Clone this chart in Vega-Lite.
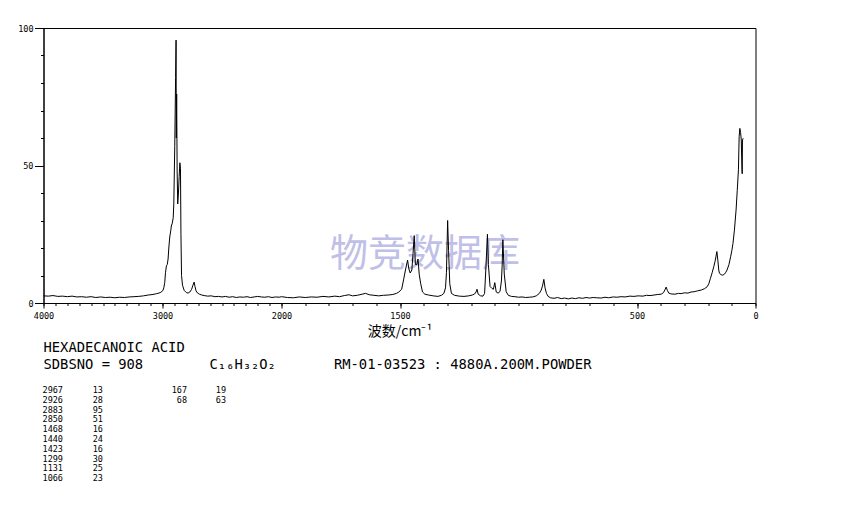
{
  "$schema": "https://vega.github.io/schema/vega-lite/v6.json",
  "background": "white",
  "padding": {"left": 16.5, "top": 23, "right": 0, "bottom": 0},
  "bounds": "flush",
  "spacing": 0,
  "datasets": {
    "spectrum": [
      {"wn":4000,"i":2.6},{"wn":3960,"i":2.5},{"wn":3920,"i":2.7},{"wn":3880,"i":2.4},{"wn":3840,"i":2.5},{"wn":3800,"i":2.3},{"wn":3760,"i":2.5},{"wn":3720,"i":2.2},{"wn":3680,"i":2.3},{"wn":3640,"i":2.1},{"wn":3600,"i":2.3},{"wn":3560,"i":2.0},{"wn":3520,"i":2.2},{"wn":3480,"i":2.0},{"wn":3440,"i":2.1},{"wn":3400,"i":1.9},{"wn":3360,"i":2.1},{"wn":3320,"i":2.0},{"wn":3280,"i":2.2},{"wn":3240,"i":2.3},{"wn":3200,"i":2.4},{"wn":3160,"i":2.6},{"wn":3120,"i":2.9},{"wn":3080,"i":3.1},{"wn":3050,"i":3.4},{"wn":3030,"i":3.6},{"wn":3014,"i":3.9},{"wn":2997,"i":4.5},{"wn":2989,"i":5.5},{"wn":2981,"i":7.5},{"wn":2975,"i":11.0},{"wn":2967,"i":13.5},{"wn":2960,"i":14.0},{"wn":2953,"i":16.0},{"wn":2947,"i":20.0},{"wn":2939,"i":24.0},{"wn":2930,"i":26.5},{"wn":2926,"i":28.0},{"wn":2918,"i":29.0},{"wn":2910,"i":31.0},{"wn":2905,"i":36.0},{"wn":2897,"i":57.0},{"wn":2890,"i":82.0},{"wn":2886,"i":95.6},{"wn":2884,"i":60.0},{"wn":2881,"i":76.0},{"wn":2877,"i":48.0},{"wn":2872,"i":36.0},{"wn":2866,"i":40.0},{"wn":2860,"i":46.0},{"wn":2854,"i":51.0},{"wn":2849,"i":49.0},{"wn":2845,"i":25.0},{"wn":2840,"i":10.0},{"wn":2832,"i":6.5},{"wn":2818,"i":4.6},{"wn":2800,"i":3.8},{"wn":2785,"i":3.6},{"wn":2770,"i":4.0},{"wn":2755,"i":5.0},{"wn":2744,"i":6.5},{"wn":2734,"i":7.6},{"wn":2727,"i":6.0},{"wn":2718,"i":4.4},{"wn":2705,"i":3.6},{"wn":2690,"i":3.2},{"wn":2670,"i":2.9},{"wn":2650,"i":2.7},{"wn":2620,"i":2.5},{"wn":2590,"i":2.6},{"wn":2560,"i":2.3},{"wn":2530,"i":2.4},{"wn":2500,"i":2.2},{"wn":2470,"i":2.4},{"wn":2440,"i":2.1},{"wn":2410,"i":2.3},{"wn":2380,"i":2.0},{"wn":2350,"i":2.2},{"wn":2320,"i":2.1},{"wn":2290,"i":2.3},{"wn":2260,"i":2.0},{"wn":2230,"i":2.2},{"wn":2200,"i":2.4},{"wn":2170,"i":2.2},{"wn":2140,"i":2.1},{"wn":2110,"i":2.3},{"wn":2080,"i":2.0},{"wn":2050,"i":2.2},{"wn":2020,"i":2.1},{"wn":2000,"i":2.3},{"wn":1975,"i":2.0},{"wn":1950,"i":1.9},{"wn":1925,"i":2.2},{"wn":1900,"i":2.0},{"wn":1875,"i":2.2},{"wn":1850,"i":2.1},{"wn":1825,"i":2.4},{"wn":1800,"i":2.2},{"wn":1775,"i":2.5},{"wn":1755,"i":2.3},{"wn":1735,"i":2.7},{"wn":1715,"i":3.0},{"wn":1700,"i":2.6},{"wn":1680,"i":2.8},{"wn":1660,"i":3.2},{"wn":1645,"i":3.5},{"wn":1630,"i":3.0},{"wn":1610,"i":2.8},{"wn":1590,"i":2.6},{"wn":1570,"i":2.8},{"wn":1550,"i":2.9},{"wn":1530,"i":3.1},{"wn":1515,"i":3.5},{"wn":1505,"i":4.0},{"wn":1493,"i":5.0},{"wn":1485,"i":8.4},{"wn":1477,"i":12.0},{"wn":1468,"i":15.6},{"wn":1463,"i":12.5},{"wn":1457,"i":10.9},{"wn":1450,"i":12.0},{"wn":1445,"i":18.0},{"wn":1440,"i":24.5},{"wn":1435,"i":14.0},{"wn":1429,"i":14.0},{"wn":1424,"i":16.0},{"wn":1419,"i":10.5},{"wn":1413,"i":7.2},{"wn":1405,"i":4.0},{"wn":1395,"i":3.2},{"wn":1380,"i":2.9},{"wn":1360,"i":2.6},{"wn":1340,"i":2.4},{"wn":1325,"i":2.8},{"wn":1315,"i":3.5},{"wn":1308,"i":5.5},{"wn":1304,"i":11.0},{"wn":1299,"i":30.0},{"wn":1295,"i":19.0},{"wn":1290,"i":7.0},{"wn":1283,"i":3.5},{"wn":1270,"i":2.8},{"wn":1250,"i":2.5},{"wn":1230,"i":2.4},{"wn":1210,"i":2.6},{"wn":1195,"i":2.9},{"wn":1185,"i":3.3},{"wn":1179,"i":4.0},{"wn":1175,"i":5.0},{"wn":1170,"i":3.2},{"wn":1160,"i":2.6},{"wn":1150,"i":2.5},{"wn":1143,"i":3.5},{"wn":1138,"i":12.0},{"wn":1131,"i":25.0},{"wn":1127,"i":14.0},{"wn":1120,"i":6.0},{"wn":1112,"i":5.3},{"wn":1106,"i":5.0},{"wn":1100,"i":7.4},{"wn":1094,"i":4.0},{"wn":1086,"i":3.6},{"wn":1078,"i":4.2},{"wn":1072,"i":8.0},{"wn":1069,"i":13.5},{"wn":1066,"i":23.0},{"wn":1060,"i":10.5},{"wn":1052,"i":4.1},{"wn":1043,"i":2.8},{"wn":1030,"i":2.4},{"wn":1015,"i":2.3},{"wn":1000,"i":2.1},{"wn":985,"i":2.2},{"wn":970,"i":2.0},{"wn":955,"i":2.1},{"wn":940,"i":2.2},{"wn":925,"i":2.6},{"wn":912,"i":3.5},{"wn":904,"i":4.7},{"wn":898,"i":6.5},{"wn":893,"i":8.6},{"wn":888,"i":5.5},{"wn":882,"i":3.5},{"wn":875,"i":2.4},{"wn":865,"i":1.9},{"wn":850,"i":1.7},{"wn":835,"i":2.0},{"wn":820,"i":1.6},{"wn":805,"i":1.8},{"wn":790,"i":1.5},{"wn":775,"i":1.8},{"wn":760,"i":1.6},{"wn":745,"i":1.9},{"wn":730,"i":1.7},{"wn":715,"i":2.0},{"wn":700,"i":1.8},{"wn":685,"i":2.0},{"wn":670,"i":1.9},{"wn":651,"i":1.8},{"wn":635,"i":2.1},{"wn":620,"i":1.9},{"wn":600,"i":2.2},{"wn":585,"i":2.1},{"wn":567,"i":2.3},{"wn":550,"i":2.2},{"wn":530,"i":2.5},{"wn":513,"i":2.4},{"wn":495,"i":2.6},{"wn":475,"i":2.5},{"wn":460,"i":2.8},{"wn":445,"i":2.7},{"wn":428,"i":2.9},{"wn":412,"i":3.1},{"wn":398,"i":3.2},{"wn":388,"i":3.8},{"wn":382,"i":4.8},{"wn":377,"i":5.8},{"wn":372,"i":4.6},{"wn":366,"i":3.6},{"wn":356,"i":3.3},{"wn":340,"i":3.2},{"wn":325,"i":3.5},{"wn":314,"i":3.4},{"wn":300,"i":3.7},{"wn":285,"i":3.6},{"wn":272,"i":4.0},{"wn":259,"i":4.1},{"wn":245,"i":4.4},{"wn":229,"i":4.7},{"wn":215,"i":5.2},{"wn":204,"i":5.9},{"wn":197,"i":7.0},{"wn":190,"i":9.0},{"wn":183,"i":11.0},{"wn":176,"i":13.2},{"wn":171,"i":15.0},{"wn":167,"i":16.8},{"wn":163,"i":18.7},{"wn":159,"i":15.6},{"wn":155,"i":12.0},{"wn":152,"i":10.8},{"wn":145,"i":10.3},{"wn":138,"i":10.1},{"wn":131,"i":10.5},{"wn":125,"i":11.2},{"wn":120,"i":12.0},{"wn":112,"i":14.0},{"wn":105,"i":16.8},{"wn":100,"i":19.0},{"wn":95,"i":21.7},{"wn":89,"i":26.5},{"wn":82,"i":33.8},{"wn":77,"i":41.0},{"wn":72,"i":48.4},{"wn":69,"i":60.5},{"wn":66,"i":63.5},{"wn":63,"i":62.0},{"wn":60,"i":59.3},{"wn":57,"i":48.4},{"wn":56,"i":47.0},{"wn":55,"i":59.3},{"wn":52,"i":59.9}
    ],
    "peaks": [
      {"list":1,"wn":2967,"int":13},{"list":1,"wn":2926,"int":28},{"list":1,"wn":2883,"int":95},{"list":1,"wn":2850,"int":51},{"list":1,"wn":1468,"int":16},{"list":1,"wn":1440,"int":24},{"list":1,"wn":1423,"int":16},{"list":1,"wn":1299,"int":30},{"list":1,"wn":1131,"int":25},{"list":1,"wn":1066,"int":23},
      {"list":2,"wn":167,"int":19},{"list":2,"wn":68,"int":63}
    ]
  },
  "vconcat": [
    {
      "width": 712,
      "height": 275,
      "view": {"stroke": "black", "strokeWidth": 1},
      "resolve": {"scale": {"x": "shared", "y": "shared"}, "axis": {"x": "independent", "y": "independent"}},
      "layer": [
        {
          "data": {"values": [{"label": "物竞数据库"}]},
          "mark": {"type": "text", "font": "Noto Sans CJK SC", "fontSize": 38, "color": "#bfbfe8", "baseline": "middle", "align": "center"},
          "encoding": {
            "x": {
              "datum": 1395, "type": "quantitative",
              "scale": {"domain": [4000, 2000, 0], "range": [0, 238, 712], "nice": false, "zero": false},
              "axis": {
                "orient": "bottom",
                "values": [0,100,200,300,400,500,600,700,800,900,1000,1100,1200,1300,1400,1500,1600,1700,1800,1900,2000,2100,2200,2300,2400,2500,2600,2700,2800,2900,3000,3100,3200,3300,3400,3500,3600,3700,3800,3900,4000],
                "tickSize": 2.5, "labels": false, "domain": false, "title": null, "grid": false, "tickColor": "black"
              }
            },
            "y": {
              "datum": 17.5, "type": "quantitative",
              "scale": {"domain": [0, 100], "nice": false},
              "axis": {
                "orient": "left",
                "values": [0,10,20,30,40,50,60,70,80,90,100],
                "tickSize": 3, "labels": false, "domain": false, "title": null, "grid": false, "tickColor": "black"
              }
            },
            "text": {"field": "label"}
          }
        },
        {
          "data": {"name": "spectrum"},
          "mark": {"type": "line", "color": "black", "strokeWidth": 1},
          "encoding": {
            "x": {
              "field": "wn", "type": "quantitative",
              "scale": {"domain": [4000, 2000, 0], "range": [0, 238, 712], "nice": false, "zero": false},
              "axis": {
                "orient": "bottom",
                "values": [4000, 3000, 2000, 1500, 500, 0],
                "format": "d",
                "tickSize": 5,
                "labelPadding": 3,
                "labelFlush": false,
                "labelOverlap": false,
                "labelFont": "DejaVu Sans Mono",
                "labelFontSize": 8.5,
                "labelColor": "black",
                "domainColor": "black",
                "tickColor": "black",
                "grid": false,
                "title": "波数/cm⁻¹",
                "titleFont": "Noto Sans CJK SC",
                "titleFontSize": 14,
                "titleFontWeight": "normal",
                "titleColor": "black",
                "titlePadding": 5
              }
            },
            "y": {
              "field": "i", "type": "quantitative",
              "scale": {"domain": [0, 100], "nice": false},
              "axis": {
                "orient": "left",
                "values": [0, 50, 100],
                "tickSize": 9,
                "labelPadding": 1.5,
                "labelFlush": false,
                "labelOverlap": false,
                "labelFont": "DejaVu Sans Mono",
                "labelFontSize": 8.5,
                "labelColor": "black",
                "domainColor": "black",
                "tickColor": "black",
                "grid": false,
                "title": null
              }
            }
          }
        }
      ]
    },
    {
      "width": 712,
      "height": 196,
      "view": {"stroke": null},
      "layer": [
        {
          "data": {"values": [{"label": "HEXADECANOIC ACID"}]},
          "mark": {"type": "text", "align": "left", "baseline": "middle", "font": "DejaVu Sans Mono", "fontSize": 13.8, "color": "black"},
          "encoding": {
            "x": {"datum": 0, "type": "quantitative", "scale": {"domain": [0, 85.8], "nice": false, "zero": false}, "axis": null},
            "y": {"datum": -3.3, "type": "quantitative", "scale": {"domain": [-7.9, 12.14], "nice": false, "zero": false, "reverse": true}, "axis": null},
            "text": {"field": "label"}
          }
        },
        {
          "data": {"values": [{"label": "SDBSNO = 908"}]},
          "mark": {"type": "text", "align": "left", "baseline": "middle", "font": "DejaVu Sans Mono", "fontSize": 13.8, "color": "black"},
          "encoding": {
            "x": {"datum": 0, "type": "quantitative"},
            "y": {"datum": -1.56, "type": "quantitative"},
            "text": {"field": "label"}
          }
        },
        {
          "data": {"values": [{"label": "C₁₆H₃₂O₂"}]},
          "mark": {"type": "text", "align": "left", "baseline": "middle", "font": "DejaVu Sans Mono", "fontSize": 13.8, "color": "black"},
          "encoding": {
            "x": {"datum": 20, "type": "quantitative"},
            "y": {"datum": -1.56, "type": "quantitative"},
            "text": {"field": "label"}
          }
        },
        {
          "data": {"values": [{"label": "RM-01-03523 : 4880A.200M.POWDER"}]},
          "mark": {"type": "text", "align": "left", "baseline": "middle", "font": "DejaVu Sans Mono", "fontSize": 13.8, "color": "black"},
          "encoding": {
            "x": {"datum": 35, "type": "quantitative"},
            "y": {"datum": -1.56, "type": "quantitative"},
            "text": {"field": "label"}
          }
        },
        {
          "data": {"name": "peaks"},
          "transform": [
            {"window": [{"op": "row_number", "as": "rn"}], "groupby": ["list"], "sort": [{"field": "wn", "order": "descending"}]},
            {"filter": "datum.list === 1"}
          ],
          "mark": {"type": "text", "align": "right", "baseline": "middle", "font": "DejaVu Sans Mono", "fontSize": 8.5, "color": "black"},
          "encoding": {
            "x": {"datum": 2.35, "type": "quantitative"},
            "y": {"field": "rn", "type": "quantitative"},
            "text": {"field": "wn", "type": "quantitative", "format": "d"}
          }
        },
        {
          "data": {"name": "peaks"},
          "transform": [
            {"window": [{"op": "row_number", "as": "rn"}], "groupby": ["list"], "sort": [{"field": "wn", "order": "descending"}]},
            {"filter": "datum.list === 1"}
          ],
          "mark": {"type": "text", "align": "right", "baseline": "middle", "font": "DejaVu Sans Mono", "fontSize": 8.5, "color": "black"},
          "encoding": {
            "x": {"datum": 7.17, "type": "quantitative"},
            "y": {"field": "rn", "type": "quantitative"},
            "text": {"field": "int", "type": "quantitative", "format": "d"}
          }
        },
        {
          "data": {"name": "peaks"},
          "transform": [
            {"window": [{"op": "row_number", "as": "rn"}], "groupby": ["list"], "sort": [{"field": "wn", "order": "descending"}]},
            {"filter": "datum.list === 2"}
          ],
          "mark": {"type": "text", "align": "right", "baseline": "middle", "font": "DejaVu Sans Mono", "fontSize": 8.5, "color": "black"},
          "encoding": {
            "x": {"datum": 17.3, "type": "quantitative"},
            "y": {"field": "rn", "type": "quantitative"},
            "text": {"field": "wn", "type": "quantitative", "format": "d"}
          }
        },
        {
          "data": {"name": "peaks"},
          "transform": [
            {"window": [{"op": "row_number", "as": "rn"}], "groupby": ["list"], "sort": [{"field": "wn", "order": "descending"}]},
            {"filter": "datum.list === 2"}
          ],
          "mark": {"type": "text", "align": "right", "baseline": "middle", "font": "DejaVu Sans Mono", "fontSize": 8.5, "color": "black"},
          "encoding": {
            "x": {"datum": 22, "type": "quantitative"},
            "y": {"field": "rn", "type": "quantitative"},
            "text": {"field": "int", "type": "quantitative", "format": "d"}
          }
        }
      ]
    }
  ],
  "config": {
    "axis": {"domainWidth": 1, "tickWidth": 1},
    "text": {"color": "black"}
  }
}
